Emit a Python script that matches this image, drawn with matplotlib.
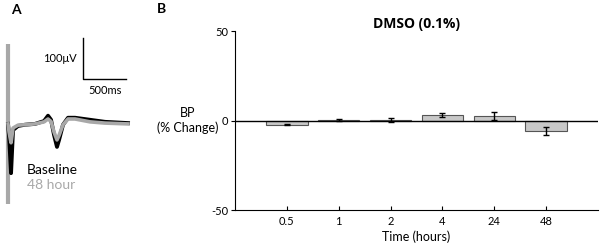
import matplotlib
matplotlib.use("Agg")
from matplotlib import pyplot as plt

plt.rcParams['font.family'] = ['Lato', 'DejaVu Sans']
plt.rcParams['axes.unicode_minus'] = False

# Panel A : traces (ms, uV)
t_base = [0, 12, 35, 58, 116, 197, 313, 418, 464, 499, 534, 568, 592, 638, 696, 777, 951, 1125, 1392]
v_base = [0, -30, -120, -15, -5, -2, 0, 7, 20, 10, -27, -56, -39, -2, 15, 15, 10, 5, 2]
t_48 = [0, 12, 35, 58, 116, 197, 313, 418, 464, 499, 534, 568, 592, 638, 696, 777, 951, 1125, 1392]
v_48 = [0, -20, -46, -10, -3, -2, 0, 5, 12, 6, -20, -39, -28, -2, 12, 12, 5, 2, 0]
t_artifact = [0, 0]
v_artifact = [195, -195]

# Panel B : bar chart
times = ['0.5', '1', '2', '4', '24', '48']
bp_change = [-2.3, 0.5, 0.3, 2.9, 2.6, -5.8]
bp_err = [0.3, 0.5, 1.2, 1.2, 2.2, 2.3]

fig = plt.figure(figsize=(6, 2.47), dpi=100)

# ---- A
axA = fig.add_axes([0, 0, 0.25, 1])
axA.set_xlim(-93, 1647)
axA.set_ylim(-300, 302)
axA.axis('off')
axA.plot(t_artifact, v_artifact, color='#a8a8a8', lw=3, solid_capstyle='butt')
axA.plot(t_base, v_base, color='black', lw=2.8)
axA.plot(t_48, v_48, color='#a8a8a8', lw=2.6)
# scale bar
axA.plot([870, 870, 1370], [210, 110, 110], color='black', lw=1)
axA.text(800, 160, '100μV', ha='right', va='center', fontsize=8)
axA.text(1120, 82, '500ms', ha='center', va='center', fontsize=8)
axA.text(220, -112, 'Baseline', ha='left', va='center', fontsize=10, color='black')
axA.text(220, -149, '48 hour', ha='left', va='center', fontsize=10, color='#a8a8a8')
fig.text(11 / 600, 1 - 10 / 247, 'A', fontsize=10, fontweight='bold', va='center', ha='left')

# ---- B
axB = fig.add_axes([235 / 600, 1 - 210 / 247, 363 / 600, 179 / 247])
x = range(len(times))
axB.bar(x, bp_change, width=0.8, color='#c8c8c8', edgecolor='#555555', linewidth=0.8, zorder=2)
axB.errorbar(x, bp_change, yerr=bp_err, fmt='none', ecolor='black', elinewidth=1, capsize=2.5, zorder=3)
axB.axhline(0, color='black', lw=1, zorder=4)
axB.set_xlim(-1, 6)
axB.set_ylim(-50, 50)
axB.set_yticks([-50, 0, 50])
axB.set_xticks(list(x))
axB.set_xticklabels(times)
axB.spines['top'].set_visible(False)
axB.spines['right'].set_visible(False)
axB.tick_params(axis='y', direction='out', length=3, labelsize=8, pad=2)
axB.tick_params(axis='x', direction='in', length=3, labelsize=8, pad=4)
axB.set_title('DMSO (0.1%)', fontsize=10, fontweight='bold', pad=-3,
              family=['Open Sans', 'DejaVu Sans'])
axB.set_xlabel('Time (hours)', fontsize=9, labelpad=3)
axB.set_ylabel('BP\n(% Change)', fontsize=9, rotation=0, ha='center', va='center', labelpad=0)
axB.yaxis.set_label_coords(-0.13, 0.5)
fig.text(162 / 600, 1 - 9 / 247, 'B', fontsize=10, fontweight='bold', va='center', ha='center')

fig.savefig('out.png', dpi=100)
